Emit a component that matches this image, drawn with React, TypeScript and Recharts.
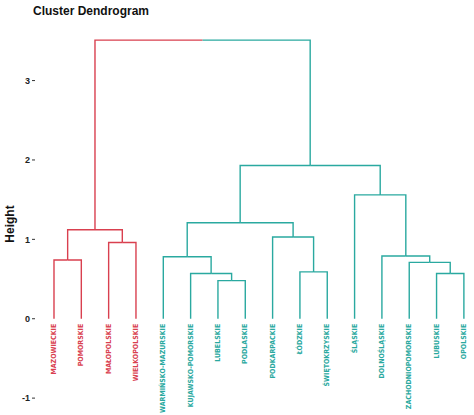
import { ComposedChart, Line, Scatter, XAxis, YAxis } from 'recharts';

const RED = '#D9404F';
const TEAL = '#2AA9A0';

// leaves in dendrogram order
const leafNames = [
  'MAZOWIECKIE',
  'POMORSKIE',
  'MAŁOPOLSKIE',
  'WIELKOPOLSKIE',
  'WARMIŃSKO-MAZURSKIE',
  'KUJAWSKO-POMORSKIE',
  'LUBELSKIE',
  'PODLASKIE',
  'PODKARPACKIE',
  'ŁÓDZKIE',
  'ŚWIĘTOKRZYSKIE',
  'ŚLĄSKIE',
  'DOLNOŚLĄSKIE',
  'ZACHODNIOPOMORSKIE',
  'LUBUSKIE',
  'OPOLSKIE',
];
const leafCluster = [0, 0, 0, 0, 1, 1, 1, 1, 1, 1, 1, 1, 1, 1, 1, 1];
const clusterColors = [RED, TEAL];

// R-style merge matrix: negative = leaf (1-based), positive = earlier merge
const merges: [number, number][] = [
  [-1, -2],
  [-3, -4],
  [1, 2],
  [-7, -8],
  [-6, 4],
  [-5, 5],
  [-10, -11],
  [-9, 7],
  [6, 8],
  [-15, -16],
  [-14, 10],
  [-13, 11],
  [-12, 12],
  [9, 13],
  [3, 14],
];
const mergeHeights = [0.74, 0.96, 1.12, 0.48, 0.57, 0.78, 0.59, 1.03, 1.21, 0.57, 0.71, 0.79, 1.56, 1.93, 3.51];

const yTicks = [-1, 0, 1, 2, 3];

type Node = { x: number; h: number; cluster: number };
const nodes: Node[] = [];
const getNode = (id: number): Node =>
  id < 0 ? { x: -id, h: 0, cluster: leafCluster[-id - 1] } : nodes[id - 1];

const segments: { pts: { x: number; y: number }[]; color: string }[] = [];
merges.forEach(([a, b], i) => {
  const l = getNode(a);
  const r = getNode(b);
  const h = mergeHeights[i];
  const x = (l.x + r.x) / 2;
  nodes.push({ x, h, cluster: l.cluster === r.cluster ? l.cluster : -1 });
  const lc = l.cluster < 0 ? TEAL : clusterColors[l.cluster];
  const rc = r.cluster < 0 ? TEAL : clusterColors[r.cluster];
  segments.push({
    pts: [
      { x: l.x, y: l.h },
      { x: l.x, y: h },
      { x, y: h },
    ],
    color: lc,
  });
  segments.push({
    pts: [
      { x, y: h },
      { x: r.x, y: h },
      { x: r.x, y: r.h },
    ],
    color: rc,
  });
});

const leafData = leafNames.map((name, i) => ({
  x: i + 1,
  y: 0,
  name,
  color: clusterColors[leafCluster[i]],
}));

const LeafLabel = (props: any) => {
  const { cx, cy, payload } = props;
  return (
    <text
      x={cx}
      y={cy + 5}
      transform={`rotate(-90 ${cx} ${cy + 5})`}
      textAnchor="end"
      dominantBaseline="central"
      fontSize={7}
      fontWeight="bold"
      fontFamily="'DejaVu Sans Condensed', 'Liberation Sans Narrow', sans-serif"
      fill={payload.color}
    >
      {payload.name}
    </text>
  );
};

export default function App() {
  return (
    <div style={{ position: 'absolute', left: 0, top: 0, width: 474, height: 415, background: '#fff' }}>
      <div
        style={{
          position: 'absolute',
          left: 33,
          top: 4,
          fontFamily: "'Liberation Sans', Arial, sans-serif",
          fontSize: 12,
          fontWeight: 'bold',
          color: '#111',
        }}
      >
        Cluster Dendrogram
      </div>
      <div
        style={{
          position: 'absolute',
          left: 10,
          top: 224,
          transform: 'translate(-50%, -50%) rotate(-90deg)',
          fontFamily: "'Liberation Sans', Arial, sans-serif",
          fontSize: 12,
          fontWeight: 'bold',
          color: '#111',
        }}
      >
        Height
      </div>
      <ComposedChart width={474} height={415} margin={{ top: 25, right: 0, left: 0, bottom: 1 }}>
        <XAxis type="number" dataKey="x" domain={[0.305, 16.37]} allowDataOverflow hide />
        <YAxis
          type="number"
          domain={[-1.2, 3.7]}
          allowDataOverflow
          ticks={yTicks}
          width={35}
          axisLine={false}
          tickSize={3}
          tickLine={{ stroke: '#333' }}
          tick={{ fontSize: 9, fontWeight: 'bold', fill: '#222', fontFamily: "'Liberation Sans', Arial, sans-serif" }}
        />
        {segments.map((s, i) => (
          <Line
            key={i}
            data={s.pts}
            dataKey="y"
            type="linear"
            stroke={s.color}
            strokeWidth={1.4}
            dot={false}
            activeDot={false}
            isAnimationActive={false}
          />
        ))}
        <Scatter data={leafData} dataKey="y" shape={LeafLabel} isAnimationActive={false} />
      </ComposedChart>
    </div>
  );
}
